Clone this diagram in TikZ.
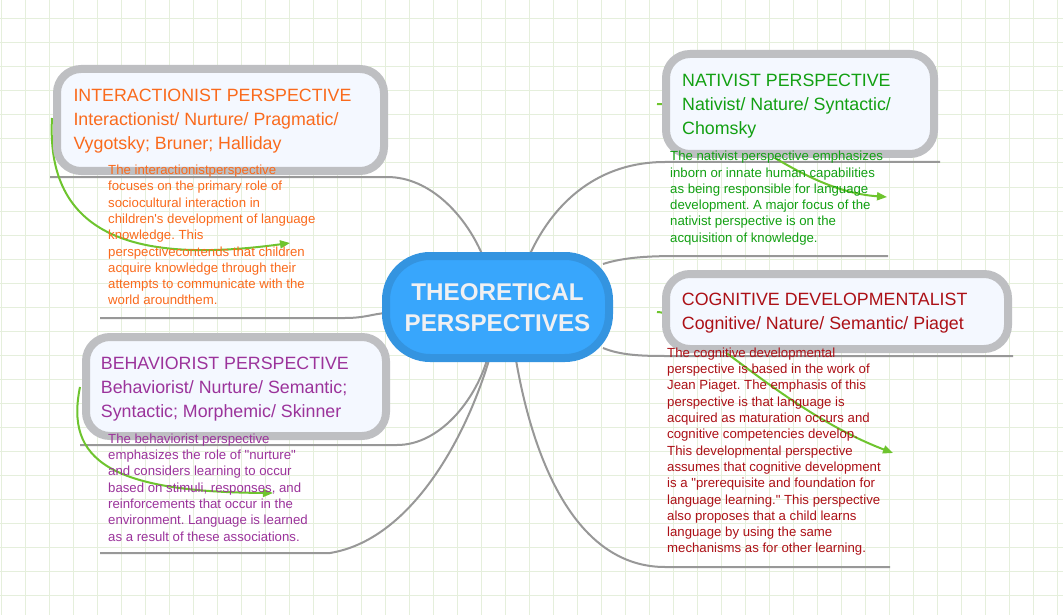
\documentclass[tikz,border=0pt]{standalone}
\usepackage{fontspec}
\setmainfont{Liberation Sans}[Ligatures=TeXOff]
\usetikzlibrary{arrows.meta}
\definecolor{gridc}{RGB}{229,239,220}
\definecolor{boxborder}{RGB}{190,191,194}
\definecolor{boxfill}{RGB}{244,248,255}
\definecolor{cfill}{RGB}{56,166,252}
\definecolor{cborder}{RGB}{52,148,224}
\definecolor{connc}{RGB}{152,152,152}
\definecolor{relc}{RGB}{110,196,46}
\definecolor{orangec}{RGB}{250,106,28}
\definecolor{greenc}{RGB}{18,160,18}
\definecolor{purplec}{RGB}{155,51,155}
\definecolor{redc}{RGB}{172,16,22}
\definecolor{ctext}{RGB}{240,240,242}
\newcommand\tlines[1]{\vtop{\halign{##\hfil\cr#1\crcr}}}
\newcommand\clines[1]{\vtop{\halign{\hfil##\hfil\cr#1\crcr}}}
\frenchspacing
\begin{document}
\begin{tikzpicture}[x=1pt,y=-1pt,
  topicbox/.style={draw=boxborder, fill=boxfill, line width=8pt, rounded corners=24pt, inner sep=0pt, outer sep=0pt},
  centralbox/.style={draw=cborder, fill=cfill, line width=8pt, rounded corners=44pt, inner sep=0pt, outer sep=0pt},
  branch/.style={draw=connc, line width=2pt},
  relation/.style={draw=relc, line width=2pt, -{Triangle[length=10pt,width=8pt]}},
  titletext/.style={anchor=base west, inner sep=0pt, font=\fontsize{17.8pt}{24pt}\selectfont},
  desctext/.style={anchor=base west, inner sep=0pt, font=\fontsize{13.2pt}{16.3pt}\selectfont\frenchspacing},
]
\useasboundingbox (0,0) rectangle (1063,615);
\fill[white] (0,0) rectangle (1063,615);
% grid
\foreach \i in {0,...,44} \draw[gridc, line width=1pt] (1+24*\i,0) -- (1+24*\i,615);
\foreach \j in {0,...,24} \draw[gridc, line width=1pt] (0,19+24*\j) -- (1063,19+24*\j);

% coordinates
\coordinate (c1) at (482,254);
\coordinate (c2) at (386,313);
\coordinate (c3) at (487,360);
\coordinate (c4) at (489,360);
\coordinate (c5) at (530,254);
\coordinate (c6) at (603,264);
\coordinate (c7) at (603,348);
\coordinate (c8) at (516,360);

\coordinate (u1a) at (50,177);  \coordinate (u1b) at (387,177);
\coordinate (u2a) at (100,318); \coordinate (u2b) at (345,318);
\coordinate (u3a) at (80,445);  \coordinate (u3b) at (397,445);
\coordinate (u4a) at (100,553); \coordinate (u4b) at (330,553);
\coordinate (u5a) at (940,162); \coordinate (u5b) at (665,162);
\coordinate (u6a) at (888,256); \coordinate (u6b) at (680,256);
\coordinate (u7a) at (1013,356); \coordinate (u7b) at (665,356);
\coordinate (u8a) at (890,567); \coordinate (u8b) at (665,567);

% branches
\draw[branch] (u1a) -- (u1b) .. controls (430,177) and (465,215) .. (c1);
\draw[branch] (u2a) -- (u2b) .. controls (365,318) and (372,314) .. (c2);
\draw[branch] (u3a) -- (u3b) .. controls (440,445) and (475,400) .. (c3);
\draw[branch] (u4a) -- (u4b) .. controls (410,540) and (465,440) .. (c4);
\draw[branch] (u5a) -- (u5b) .. controls (600,162) and (555,200) .. (c5);
\draw[branch] (u6a) -- (u6b) .. controls (650,256) and (625,257) .. (c6);
\draw[branch] (u7a) -- (u7b) .. controls (640,356) and (620,355) .. (c7);
\draw[branch] (u8a) -- (u8b) .. controls (580,567) and (535,470) .. (c8);

% relation arrows
\coordinate (r1s) at (52,118);  \coordinate (r1e) at (290,243);
\coordinate (r2s) at (657,104); \coordinate (r2e) at (887,197);
\coordinate (r3s) at (80,387);  \coordinate (r3e) at (273,493);
\coordinate (r4s) at (657,312); \coordinate (r4e) at (893,453);
\draw[relation] (r1s) .. controls (45,245) and (150,262) .. (r1e);
\draw[relation] (r2s) .. controls (720,104) and (790,190) .. (r2e);
\draw[relation] (r3s) .. controls (65,460) and (110,492) .. (r3e);
\draw[relation] (r4s) .. controls (690,312) and (780,410) .. (r4e);

% topic boxes
\node[topicbox, minimum width=327pt, minimum height=102pt] (interbox) at (220.5,120) {};
\node[topicbox, minimum width=268pt, minimum height=100pt] (natbox) at (800,104) {};
\node[topicbox, minimum width=300pt, minimum height=99pt] (behbox) at (236,386.5) {};
\node[topicbox, minimum width=342pt, minimum height=75pt] (cogbox) at (837,311.5) {};
\node[centralbox, minimum width=223pt, minimum height=102pt] (ctr) at (497.5,307) {};

% titles
\node[titletext, text=orangec] (intertitle) at (73.3,101.7)
  {\tlines{INTERACTIONIST PERSPECTIVE\cr Interactionist/ Nurture/ Pragmatic/\cr Vygotsky; Bruner; Halliday}};
\node[titletext, text=greenc] (nattitle) at (682,86.7)
  {\tlines{NATIVIST PERSPECTIVE\cr Nativist/ Nature/ Syntactic/\cr Chomsky}};
\node[titletext, text=purplec] (behtitle) at (100.7,369.3)
  {\tlines{BEHAVIORIST PERSPECTIVE\cr Behaviorist/ Nurture/ Semantic;\cr Syntactic; Morphemic/ Skinner}};
\node[titletext, text=redc] (cogtitle) at (681.7,305.7)
  {\tlines{COGNITIVE DEVELOPMENTALIST\cr Cognitive/ Nature/ Semantic/ Piaget}};
\node[anchor=base, inner sep=0pt, text=ctext, font=\fontsize{24.2pt}{31.7pt}\selectfont\bfseries] (ctrtext) at (497.5,300)
  {\clines{THEORETICAL\cr PERSPECTIVES}};

% descriptions
\node[desctext, text=orangec] (interdesc) at (108,174.5)
  {\tlines{The interactionistperspective\cr
  focuses on the primary role of\cr
  sociocultural interaction in\cr
  children's development of language\cr
  knowledge. This\cr
  perspectivecontends that children\cr
  acquire knowledge through their\cr
  attempts to communicate with the\cr
  world aroundthem.}};
\node[desctext, text=greenc] (natdesc) at (670,160.7)
  {\tlines{The nativist perspective emphasizes\cr
  inborn or innate human capabilities\cr
  as being responsible for language\cr
  development. A major focus of the\cr
  nativist perspective is on the\cr
  acquisition of knowledge.}};
\node[desctext, text=purplec] (behdesc) at (108,443.3)
  {\tlines{The behaviorist perspective\cr
  emphasizes the role of "nurture"\cr
  and considers learning to occur\cr
  based on stimuli, responses, and\cr
  reinforcements that occur in the\cr
  environment. Language is learned\cr
  as a result of these associations.}};
\node[desctext, text=redc] (cogdesc) at (667,357.3)
  {\tlines{The cognitive developmental\cr
  perspective is based in the work of\cr
  Jean Piaget. The emphasis of this\cr
  perspective is that language is\cr
  acquired as maturation occurs and\cr
  cognitive competencies develop.\cr
  This developmental perspective\cr
  assumes that cognitive development\cr
  is a "prerequisite and foundation for\cr
  language learning." This perspective\cr
  also proposes that a child learns\cr
  language by using the same\cr
  mechanisms as for other learning.}};
\end{tikzpicture}
\end{document}
